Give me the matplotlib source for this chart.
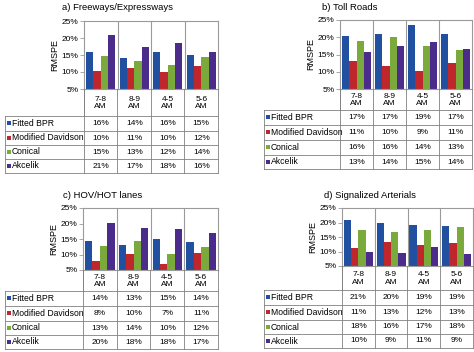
import matplotlib
matplotlib.use("Agg")
import matplotlib.pyplot as plt
import numpy as np

plt.rcParams['font.family'] = ['Liberation Sans', 'DejaVu Sans']

# Data
periods = ["7-8\nAM", "8-9\nAM", "4-5\nAM", "5-6\nAM"]
methods = ["Fitted BPR", "Modified Davidson", "Conical", "Akcelik"]
colors = ["#2150A0", "#C0272D", "#7BAA3C", "#4B2C8A"]

# bar heights (fraction)
freeway_bars = [[0.158, 0.141, 0.160, 0.150],
                [0.102, 0.113, 0.100, 0.117],
                [0.147, 0.133, 0.121, 0.143],
                [0.210, 0.174, 0.184, 0.158]]
toll_bars = [[0.205, 0.210, 0.235, 0.208],
             [0.130, 0.116, 0.102, 0.125],
             [0.190, 0.200, 0.174, 0.162],
             [0.157, 0.174, 0.185, 0.165]]
hov_bars = [[0.145, 0.131, 0.150, 0.139],
            [0.080, 0.102, 0.070, 0.106],
            [0.126, 0.145, 0.102, 0.125],
            [0.201, 0.185, 0.183, 0.169]]
arterial_bars = [[0.210, 0.200, 0.191, 0.188],
                 [0.112, 0.132, 0.122, 0.129],
                 [0.175, 0.166, 0.173, 0.185],
                 [0.100, 0.095, 0.114, 0.090]]

# data table text
freeway_table = [["16%", "14%", "16%", "15%"],
                 ["10%", "11%", "10%", "12%"],
                 ["15%", "13%", "12%", "14%"],
                 ["21%", "17%", "18%", "16%"]]
toll_table = [["17%", "17%", "19%", "17%"],
              ["11%", "10%", "9%", "11%"],
              ["16%", "16%", "14%", "13%"],
              ["13%", "14%", "15%", "14%"]]
hov_table = [["14%", "13%", "15%", "14%"],
             ["8%", "10%", "7%", "11%"],
             ["13%", "14%", "10%", "12%"],
             ["20%", "18%", "18%", "17%"]]
arterial_table = [["21%", "20%", "19%", "19%"],
                  ["11%", "13%", "12%", "13%"],
                  ["18%", "16%", "17%", "18%"],
                  ["10%", "9%", "11%", "9%"]]

titles = ["a) Freeways/Expressways", "b) Toll Roads", "c) HOV/HOT lanes", "d) Signalized Arterials"]
yticks = [0.05, 0.10, 0.15, 0.20, 0.25]
ytick_labels = ["5%", "10%", "15%", "20%", "25%"]

W, H = 474, 352
fig = plt.figure(figsize=(W / 100, H / 100), dpi=100)
ov = fig.add_axes([0, 0, 1, 1], zorder=5)
ov.set_xlim(0, W)
ov.set_ylim(H, 0)
ov.axis('off')

grid_col = "#9A9A9A"
line_col = "#808080"

# layout in pixels: plot box x0,x1,y0,y1, table left, row lines, title pos, ylabel x
layouts = [
    dict(x0=84, x1=218, y0=21, y1=89, tl=5, rows=[89, 116, 131, 145, 159, 173], tx=118, ty=8, lx=57),
    dict(x0=340, x1=472, y0=20, y1=89, tl=264, rows=[89, 110, 125, 140, 155, 169], tx=350, ty=8, lx=312),
    dict(x0=83, x1=218, y0=208, y1=270, tl=5, rows=[270, 291, 306, 321, 335, 349], tx=103, ty=196, lx=57),
    dict(x0=342, x1=473, y0=208, y1=266, tl=264, rows=[266, 290, 305, 320, 334, 348], tx=370, ty=196, lx=312),
]
all_bars = [freeway_bars, toll_bars, hov_bars, arterial_bars]
all_tables = [freeway_table, toll_table, hov_table, arterial_table]

for L, bars, table, title in zip(layouts, all_bars, all_tables, titles):
    x0, x1, y0, y1 = L['x0'], L['x1'], L['y0'], L['y1']
    ax = fig.add_axes([x0 / W, 1 - y1 / H, (x1 - x0) / W, (y1 - y0) / H])
    x = np.arange(len(periods))
    bw = 0.22
    for i, (vals, c) in enumerate(zip(bars, colors)):
        ax.bar(x + (i - 1.5) * bw, vals, bw, color=c, linewidth=0)
    ax.set_xlim(-0.5, 3.5)
    ax.set_ylim(0.05, 0.25)
    for b in [0.5, 1.5, 2.5]:
        ax.axvline(b, color=grid_col, lw=0.8)
    for s in ax.spines.values():
        s.set_color(grid_col)
        s.set_linewidth(0.8)
    ax.set_xticks([])
    ax.set_yticks(yticks)
    ax.set_yticklabels(ytick_labels)
    ax.tick_params(axis='y', direction='out', length=3, width=0.6, color=grid_col,
                   labelsize=6, pad=1)
    ax.set_ylabel("RMSPE", fontsize=6.5, labelpad=2)

    ov.text(L['tx'], L['ty'], title, ha='center', va='center', fontsize=6.8)

    # data table grid
    rows = L['rows']
    tl = L['tl']
    cw = (x1 - x0) / len(periods)
    # category row
    ov.plot([x0, x0], [rows[0], rows[1]], color=line_col, lw=0.6)
    for k in range(len(periods) + 1):
        xx = x0 + k * cw
        ov.plot([xx, xx], [rows[0], rows[-1]], color=line_col, lw=0.6)
    for r in rows[1:]:
        ov.plot([tl, x1], [r, r], color=line_col, lw=0.6)
    ov.plot([tl, tl], [rows[1], rows[-1]], color=line_col, lw=0.6)
    for k, p in enumerate(periods):
        ov.text(x0 + (k + 0.5) * cw, (rows[0] + rows[1]) / 2 + 0.5, p, ha='center',
                va='center', fontsize=6, linespacing=1.1)
    for j, (m, c) in enumerate(zip(methods, colors)):
        yc = (rows[j + 1] + rows[j + 2]) / 2
        ov.add_patch(plt.Rectangle((tl + 2, yc - 2.3), 4, 4, color=c, lw=0))
        ov.text(tl + 7, yc, m, ha='left', va='center', fontsize=6.2)
        for k in range(len(periods)):
            ov.text(x0 + (k + 0.5) * cw, yc, table[j][k], ha='center', va='center',
                    fontsize=6)

fig.savefig("out.png", dpi=100)
